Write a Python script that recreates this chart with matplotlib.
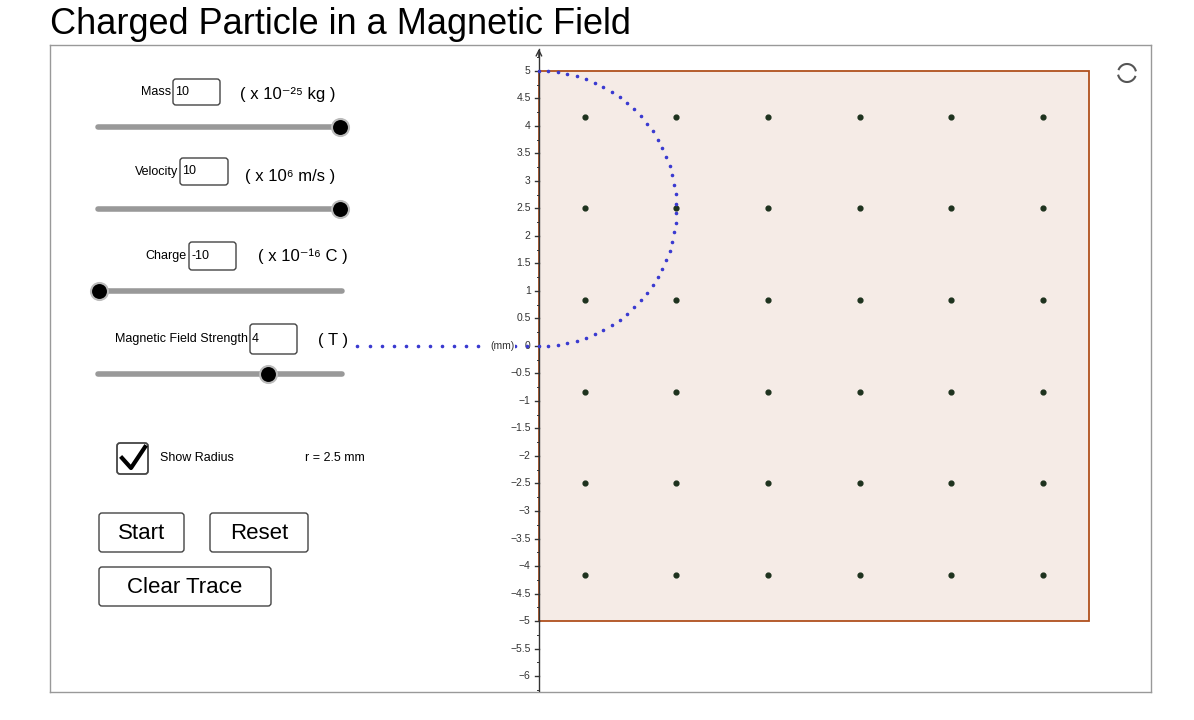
import numpy as np
import matplotlib
matplotlib.use("Agg")
import matplotlib.pyplot as plt
from matplotlib.patches import Rectangle, FancyBboxPatch

# data
field_x = [0.833, 2.5, 4.167, 5.833, 7.5, 9.167]
field_y = [4.167, 2.5, 0.833, -0.833, -2.5, -4.167]
box_x = [0, 10]
box_y = [-5, 5]
radius = 2.5
center = (0, 2.5)
yticks = [5, 4.5, 4, 3.5, 3, 2.5, 2, 1.5, 1, 0.5, 0, -0.5, -1, -1.5, -2, -2.5, -3, -3.5, -4, -4.5, -5, -5.5, -6]

fig = plt.figure(figsize=(11.94, 7.2), dpi=100)
plt.rcParams['font.family'] = ['Arial', 'Liberation Sans', 'DejaVu Sans']
W, H = 1194, 720
ax = fig.add_axes([50/W, (H-692)/H, 1101/W, 647/H])
ax.set_xlim(-8.89, 11.13)
ax.set_ylim(-6.29, 5.47)
ax.set_xticks([]); ax.set_yticks([])
for s in ax.spines.values():
    s.set_color('#999999'); s.set_linewidth(1)

ax.add_patch(Rectangle((box_x[0], box_y[0]), box_x[1]-box_x[0], box_y[1]-box_y[0],
                       facecolor='#f5ebe6', edgecolor='#b0501e', lw=1.3, zorder=1))
X, Y = np.meshgrid(field_x, field_y)
ax.scatter(X.ravel(), Y.ravel(), s=12, color='#1e321e', zorder=3)

# y axis
ax.plot([0, 0], [-6.29, 5.4], color='#333333', lw=1, zorder=4)
ax.annotate('', xy=(0, 5.45), xytext=(0, 5.2), arrowprops=dict(arrowstyle='->', color='#333333', lw=1))
for v in yticks:
    ax.plot([-0.08, 0.0], [v, v], color='#333333', lw=1, zorder=4)
    lab = ('%g' % v).replace('-', '−')
    ax.text(-0.15, v, lab, ha='right', va='center', fontsize=7.5, color='#333333', zorder=4)
for v in np.arange(-6.25, 5.3, 0.25):
    ax.plot([-0.04, 0.0], [v, v], color='#333333', lw=0.7, zorder=4)
ax.text(-0.45, 0, '(mm)', ha='right', va='center', fontsize=7.5, color='#333333', zorder=6,
        bbox=dict(facecolor='white', edgecolor='none', pad=0.5))

# trajectory
t = np.linspace(-np.pi/2, np.pi/2, 46)
ax.scatter(center[0] + radius*np.cos(t), center[1] + radius*np.sin(t), s=2.5, color='#3a3ad0', zorder=5)
xs = np.arange(-3.3, 0, 0.22)
ax.scatter(xs, np.zeros_like(xs), s=2.5, color='#3a3ad0', zorder=5)

# overlay for widgets (pixel coords)
ov = fig.add_axes([0, 0, 1, 1], zorder=10)
ov.set_xlim(0, W); ov.set_ylim(H, 0); ov.axis('off'); ov.patch.set_alpha(0)

fig.text(50/W, 1-24/H, 'Charged Particle in a Magnetic Field', fontsize=26, va='center', ha='left')

def box(x, y, w, h, txt, fs=9):
    ov.add_patch(FancyBboxPatch((x, y), w, h, boxstyle='round,pad=0,rounding_size=3',
                                facecolor='white', edgecolor='#444444', lw=1))
    ov.text(x+2, y+h/2, txt, fontsize=fs, va='center', ha='left')

def slider(x0, x1, y, knob):
    ov.plot([x0, x1], [y, y], color='#999999', lw=4, solid_capstyle='round')
    ov.scatter([knob], [y], s=150, color='black', edgecolors='#bbbbbb', linewidths=1.5, zorder=11)

ov.text(171, 92, 'Mass', fontsize=9, ha='right', va='center')
box(173, 79, 47, 26, '10')
ov.text(240, 94, '( x 10⁻²⁵ kg )', fontsize=12, va='center')
slider(98, 342, 127, 340)

ov.text(178, 172, 'Velocity', fontsize=9, ha='right', va='center')
box(180, 158, 48, 27, '10')
ov.text(245, 177, '( x 10⁶ m/s )', fontsize=12, va='center')
slider(98, 342, 209, 340)

ov.text(187, 256, 'Charge', fontsize=9, ha='right', va='center')
box(189, 242, 47, 28, '-10')
ov.text(258, 256, '( x 10⁻¹⁶ C )', fontsize=12, va='center')
slider(98, 342, 291, 99)

ov.text(248, 339, 'Magnetic Field Strength', fontsize=9, ha='right', va='center')
box(250, 324, 47, 30, '4')
ov.text(318, 341, '( T )', fontsize=12, va='center')
slider(98, 342, 374, 268)

ov.add_patch(FancyBboxPatch((117, 443), 31, 31, boxstyle='round,pad=0,rounding_size=3',
                            facecolor='white', edgecolor='#444444', lw=1.3))
ov.plot([122, 131, 145], [458, 468, 447], color='black', lw=3)
ov.text(160, 458, 'Show Radius', fontsize=9, va='center')
ov.text(305, 458, 'r = 2.5 mm', fontsize=9, va='center')

def button(x, y, w, h, txt):
    ov.add_patch(FancyBboxPatch((x, y), w, h, boxstyle='round,pad=0,rounding_size=3',
                                facecolor='white', edgecolor='#444444', lw=1))
    ov.text(x+w/2, y+h/2+1, txt, fontsize=16, ha='center', va='center')
button(99, 513, 85, 39, 'Start')
button(210, 513, 98, 39, 'Reset')
button(99, 567, 172, 39, 'Clear Trace')

# refresh icon
th = np.linspace(0.3, 2.7, 30)
ov.plot(1127 + 9*np.cos(th), 73 - 9*np.sin(th), color='#555555', lw=1.5)
ov.plot(1127 + 9*np.cos(th+np.pi), 73 - 9*np.sin(th+np.pi), color='#555555', lw=1.5)

fig.savefig('out.png', dpi=100)
